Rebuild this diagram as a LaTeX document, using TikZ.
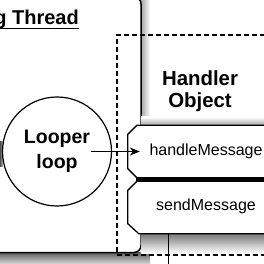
\documentclass[tikz,border=0pt]{standalone}
\usepackage{fontspec}
\setmainfont{Liberation Sans}
\usetikzlibrary{arrows.meta,calc}
\begin{document}
\begin{tikzpicture}[x=1pt,y=-1pt,
  frameline/.style={line width=1.5pt},
  boxline/.style={line width=1.3pt, fill=white},
  dashframe/.style={line width=1.3pt, dash pattern=on 5pt off 3pt},
  boxslot/.style={minimum width=156pt, minimum height=52pt, inner sep=0pt},
  msgtext/.style={font=\fontsize{16}{19}\selectfont, inner sep=0pt},
  bigbold/.style={font=\bfseries\fontsize{20.4}{22}\selectfont, align=center},
]
\useasboundingbox (0,0) rectangle (264,264);
\clip (0,0) rectangle (264,264);
% shadows of the thread frame
\shade[top color=black!65, bottom color=black!15] (0,252) rectangle (150,264);
\shade[left color=black!35, right color=white] (141,-5) rectangle (150,125);
% thread frame
\node[draw, frameline, fill=white, rounded corners=7pt, minimum width=161pt, minimum height=255.5pt, inner sep=0pt] (thread) at (60.5,124.75) {};
% shadow below the message boxes
\shade[top color=black!55, bottom color=white] (141,233) rectangle (270,253);
\shade[top color=white, bottom color=black!35] (141,117) rectangle (270,125);
\shade[left color=black!70, right color=black!20] (0,142) rectangle (3,166);
% message boxes
\node[boxslot] (hm) at (206,151.5) {};
\node[boxslot] (sm) at (206,207.5) {};
\fill (136,176) rectangle (270,183);
\draw[boxline] ($(hm.north west)+(9,0)$) -- (hm.north east) -- (hm.south east) -- ($(hm.south west)+(9,0)$) -- ($(hm.south west)+(0,-9)$) -- ($(hm.north west)+(0,9)$) -- cycle;
\draw[boxline] ($(sm.north west)+(9,0)$) -- (sm.north east) -- (sm.south east) -- ($(sm.south west)+(11,0)$) -- ($(sm.south west)+(0,-10)$) -- ($(sm.north west)+(0,9)$) -- cycle;
\node[msgtext] (hmtext) at (hm) {handleMessage};
\node[msgtext] (smtext) at ([yshift=1pt]sm.center) {sendMessage};
% line below
\coordinate (lineTop) at (168,233.5);
\coordinate (lineBot) at (168,264);
\draw[line width=1pt] (lineTop) -- (lineBot);
% handler object frame
\node[draw, dashframe, minimum width=200pt, minimum height=220pt, inner sep=0pt] (handler) at (217,145) {};
\node[bigbold] (hobj) at (200,91) {Handler\\Object};
% thread title
\node[anchor=base east, inner sep=0pt, font=\bfseries\fontsize{20}{24}\selectfont] (title) at (79,25) {g Thread};
\draw[line width=1.7pt] ($(title.base west)+(0,3.5)$) -- ($(title.base east)+(0,3.5)$);
% looper
\node[circle, draw, line width=1.2pt, minimum size=109pt, inner sep=0pt, font=\bfseries\fontsize{19.5}{25}\selectfont, align=center] (looper) at (57,151.5) {Looper\\loop};
\coordinate (arrstart) at (91,151.5);
\draw[line width=1.2pt, -{Stealth[length=10pt,width=8pt]}] (arrstart) -- ($(hm.west)+(12,0)$);
\end{tikzpicture}
\end{document}
